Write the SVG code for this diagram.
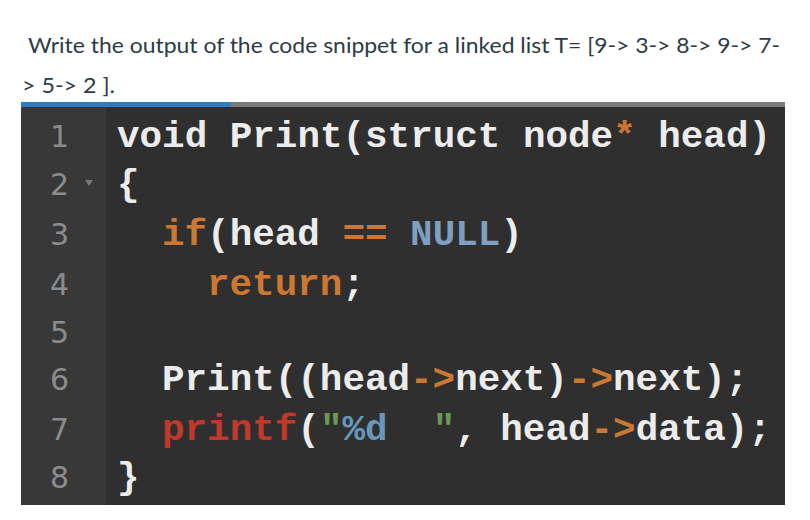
<svg xmlns="http://www.w3.org/2000/svg" width="810" height="520" viewBox="0 0 810 520">
<style>
.q{font-family:Lato,"Liberation Sans",sans-serif;font-size:22px;fill:#2d3b45}
.c{font-family:"Liberation Mono","DejaVu Sans Mono",monospace;font-size:37.6px;fill:#ececec;font-weight:bold;white-space:pre}
.n{font-family:"DejaVu Sans","Liberation Sans",sans-serif;font-size:30px;fill:#8c8c8c}
.k{fill:#cc7832}.b{fill:#7f9fc0}.r{fill:#c0392b}.g{fill:#6a9955}.d{fill:#6897bb}
</style>
<rect width="810" height="520" fill="#fff"/>
<g id="question">
<text class="q" x="28" y="53" textLength="752" lengthAdjust="spacingAndGlyphs">Write the output of the code snippet for a linked list T= [9-&gt; 3-&gt; 8-&gt; 9-&gt; 7-</text>
<text class="q" x="22" y="93" textLength="93" lengthAdjust="spacingAndGlyphs">&gt; 5-&gt; 2 ].</text>
</g>
<g id="editor">
<rect x="21" y="102" width="764" height="403" fill="#2f2f2f"/>
<rect x="21" y="102" width="85" height="403" fill="#383838"/>
<rect x="21" y="102" width="210" height="5" fill="#2f7bc4"/>
<rect x="231" y="102" width="554" height="5" fill="#7a7a7a"/>
<g class="n">
<text x="50" y="147">1</text><text x="50" y="195">2</text><text x="50" y="245">3</text><text x="50" y="295">4</text>
<text x="50" y="343">5</text><text x="50" y="390">6</text><text x="50" y="440">7</text><text x="50" y="488">8</text>
</g>
<path d="M85 180 l8 0 l-4 6 z" fill="#777"/>
<g class="c">
<text x="117" y="147" xml:space="preserve">void Print(struct node<tspan class="k">*</tspan> head)</text>
<text x="117" y="195">{</text>
<text x="162" y="245" xml:space="preserve"><tspan class="k">if</tspan>(head <tspan class="k">==</tspan> <tspan class="b">NULL</tspan>)</text>
<text x="207" y="295"><tspan class="k">return</tspan>;</text>
<text x="162" y="390">Print((head<tspan class="k">-&gt;</tspan>next)<tspan class="k">-&gt;</tspan>next);</text>
<text x="162" y="440" xml:space="preserve"><tspan class="r">printf</tspan>(<tspan class="g">"</tspan><tspan class="d">%d</tspan>  <tspan class="g">"</tspan>, head<tspan class="k">-&gt;</tspan>data);</text>
<text x="117" y="488">}</text>
</g>
</g>
</svg>
